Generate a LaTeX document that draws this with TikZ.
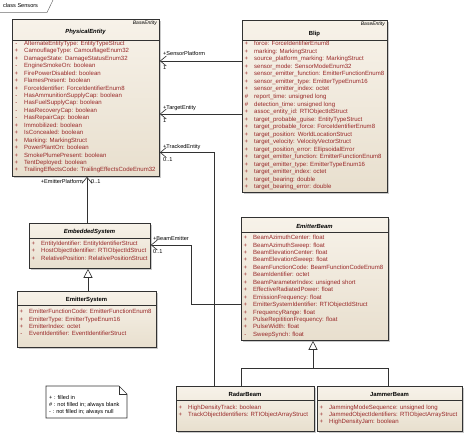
\documentclass[tikz,border=0pt]{standalone}
\usepackage{fontspec}
\setmainfont{Liberation Sans}
\usetikzlibrary{arrows.meta,shadows}
\definecolor{attrred}{RGB}{152,40,40}
\definecolor{boxtop}{RGB}{247,242,233}
\definecolor{boxbot}{RGB}{232,223,206}
\definecolor{edge}{RGB}{50,50,50}
\tikzset{
 umlbox/.style={draw=edge, line width=0.8pt, top color=boxtop, bottom color=boxbot, inner sep=0pt, anchor=north west,
   drop shadow={shadow xshift=1.6pt, shadow yshift=-1.6pt, opacity=0.35, fill=black!60}},
 vis/.style={font=\fontsize{6.05}{6}\selectfont, text=attrred, inner sep=0pt, anchor=base},
 attr/.style={font=\fontsize{6.05}{6}\selectfont, text=attrred, inner sep=0pt, anchor=base west},
 title/.style={font=\fontsize{5.9}{6}\selectfont\bfseries, inner sep=0pt, anchor=base},
 abstitle/.style={title, font=\fontsize{5.9}{6}\selectfont\bfseries\itshape},
 stereo/.style={font=\fontsize{5}{6}\selectfont\itshape, inner sep=0pt, anchor=base east},
 lbl/.style={font=\fontsize{5.6}{6}\selectfont, inner sep=0pt, anchor=base west},
 notetext/.style={font=\fontsize{5.6}{6}\selectfont, inner sep=0pt, anchor=base west},
 assoc/.style={draw=edge, line width=0.65pt, -{Straight Barb[length=6pt,width=10pt]}},
 gen/.style={draw=edge, line width=0.65pt, -{Triangle[open,length=9pt,width=9pt,fill=white]}},
 plainline/.style={draw=edge, line width=0.65pt},
 sepline/.style={draw=edge, line width=0.65pt},
}
\newcommand{\attrlist}[5]{%
  \foreach \v/\t [count=\i] in {#5}{
    \node[vis] (#1v\i) at ({#2+4.5},{#3+2+(\i-1)*#4}) {\v};
    \node[attr] (#1a\i) at ({#2+12},{#3+2+(\i-1)*#4}) {\t};
  }}
\begin{document}
\begin{tikzpicture}[x=1pt,y=-1pt]
\useasboundingbox (0,0) rectangle (474,444);
% frame tab
\node[notetext, anchor=base west] (frameT) at (3,8) {class Sensors};
\draw[edge!70, line width=0.5pt] (0,12.5) -- (47,12.5) -- (53,0);

% ---------- PhysicalEntity
\node[umlbox, minimum width=147pt, minimum height=157pt] (phys) at (12,19) {};
\node[stereo] (physS) at (157,25) {BaseEntity};
\node[abstitle] (physT) at (85.5,34) {PhysicalEntity};
\draw[sepline] (phys.west |- 0,40) -- (phys.east |- 0,40);
\attrlist{phys}{12}{43.3}{7.45}{-/AlternateEntityType: EntityTypeStruct, +/CamouflageType: CamouflageEnum32, +/DamageState: DamageStatusEnum32, -/EngineSmokeOn: boolean, +/FirePowerDisabled: boolean, +/FlamesPresent: boolean, +/ForceIdentifier: ForceIdentifierEnum8, -/HasAmmunitionSupplyCap: boolean, -/HasFuelSupplyCap: boolean, -/HasRecoveryCap: boolean, -/HasRepairCap: boolean, +/Immobilized: boolean, +/IsConcealed: boolean, +/Marking: MarkingStruct, +/PowerPlantOn: boolean, +/SmokePlumePresent: boolean, +/TentDeployed: boolean, +/TrailingEffectsCode: TrailingEffectsCodeEnum32}

% ---------- Blip
\node[umlbox, minimum width=145pt, minimum height=172pt] (blip) at (242,20) {};
\node[stereo] (blipS) at (385,26) {BaseEntity};
\node[title] (blipT) at (314.5,35.5) {Blip};
\draw[sepline] (blip.west |- 0,40) -- (blip.east |- 0,40);
\attrlist{blip}{242}{43.7}{7.54}{+/force: ForceIdentifierEnum8, +/marking: MarkingStruct, +/source\_platform\_marking: MarkingStruct, +/sensor\_mode: SensorModeEnum32, +/sensor\_emitter\_function: EmitterFunctionEnum8, +/sensor\_emitter\_type: EmitterTypeEnum16, +/sensor\_emitter\_index: octet, \#/report\_time: unsigned long, \#/detection\_time: unsigned long, +/assoc\_entity\_id: RTIObjectIdStruct, +/target\_probable\_guise: EntityTypeStruct, +/target\_probable\_force: ForceIdentifierEnum8, +/target\_position: WorldLocationStruct, +/target\_velocity: VelocityVectorStruct, +/target\_position\_error: EllipsoidalError, +/target\_emitter\_function: EmitterFunctionEnum8, +/target\_emitter\_type: EmitterTypeEnum16, +/target\_emitter\_index: octet, +/target\_bearing: double, +/target\_bearing\_error: double}

% ---------- EmbeddedSystem
\node[umlbox, minimum width=121pt, minimum height=45pt] (embed) at (29,223) {};
\node[abstitle] (embedT) at (89.5,233.8) {EmbeddedSystem};
\draw[sepline] (embed.west |- 0,238) -- (embed.east |- 0,238);
\attrlist{embed}{29}{243.3}{7.35}{+/EntityIdentifier: EntityIdentifierStruct, +/HostObjectIdentifier: RTIObjectIdStruct, +/RelativePosition: RelativePositionStruct}

% ---------- EmitterSystem
\node[umlbox, minimum width=139pt, minimum height=56pt] (esys) at (17,291) {};
\node[title] (esysT) at (86.5,301.2) {EmitterSystem};
\draw[sepline] (esys.west |- 0,305) -- (esys.east |- 0,305);
\attrlist{esys}{17}{311.7}{7.35}{+/EmitterFunctionCode: EmitterFunctionEnum8, +/EmitterType: EmitterTypeEnum16, +/EmitterIndex: octet, -/EventIdentifier: EventIdentifierStruct}

% ---------- EmitterBeam
\node[umlbox, minimum width=147pt, minimum height=123pt] (beam) at (241,217) {};
\node[abstitle] (beamT) at (314.5,228.2) {EmitterBeam};
\draw[sepline] (beam.west |- 0,232) -- (beam.east |- 0,232);
\attrlist{beam}{241}{237.7}{7.43}{+/BeamAzimuthCenter: float, +/BeamAzimuthSweep: float, +/BeamElevationCenter: float, +/BeamElevationSweep: float, +/BeamFunctionCode: BeamFunctionCodeEnum8, +/BeamIdentifier: octet, +/BeamParameterIndex: unsigned short, +/EffectiveRadiatedPower: float, +/EmissionFrequency: float, +/EmitterSystemIdentifier: RTIObjectIdStruct, +/FrequencyRange: float, +/PulseRepititionFrequency: float, +/PulseWidth: float, -/SweepSynch: float}

% ---------- RadarBeam
\node[umlbox, minimum width=138pt, minimum height=45pt] (radar) at (176,386) {};
\node[title] (radarT) at (245,396.2) {RadarBeam};
\draw[sepline] (radar.west |- 0,400) -- (radar.east |- 0,400);
\attrlist{radar}{176}{407}{7.2}{+/HighDensityTrack: boolean, +/TrackObjectIdentifiers: RTIObjectArrayStruct}

% ---------- JammerBeam
\node[umlbox, minimum width=145pt, minimum height=45pt] (jammer) at (317,386) {};
\node[title] (jammerT) at (389.5,396.2) {JammerBeam};
\draw[sepline] (jammer.west |- 0,400) -- (jammer.east |- 0,400);
\attrlist{jammer}{317}{407.5}{7.2}{+/JammingModeSequence: unsigned long, +/JammedObjectIdentifiers: RTIObjectArrayStruct, +/HighDensityJam: boolean}

% ---------- Note
\draw[draw=edge, line width=0.6pt, fill=white] (46,386) -- (119,386) -- (127,394) -- (127,418) -- (46,418) -- cycle;
\draw[draw=edge, line width=0.6pt] (119,386) -- (119,394) -- (127,394);
\node[notetext] (n1) at (49,399) {+ : filled in};
\node[notetext] (n2) at (49,406) {\# : not filled in; always blank};
\node[notetext] (n3) at (49,413) {- : not filled in; always null};

% ---------- associations
\draw[assoc] (blip.west |- 0,61) -- (phys.east |- 0,61);
\node[lbl] (lsp) at (163,56) {+SensorPlatform};
\node[lbl] (msp) at (163,69.5) {1};
\draw[assoc] (blip.west |- 0,114) -- (phys.east |- 0,114);
\node[lbl] (lte) at (163,109.5) {+TargetEntity};
\node[lbl] (mte) at (163,122) {1};
\draw[assoc] (radar.north -| 214,0) |- (phys.east |- 0,152.5);
\node[lbl] (ltr) at (163,148) {+TrackedEntity};
\node[lbl] (mtr) at (163,161) {0..1};
\draw[assoc] (embed.north -| 87,0) -- (phys.south -| 87,0);
\node[lbl, anchor=base east] (lep) at (83,183) {+EmitterPlatform};
\node[lbl] (mep) at (91,183) {0..1};
\draw[assoc] (beam.west |- 0,304) -- (191,304) -- (191,245) -- (embed.east |- 0,245);
\node[lbl] (lbe) at (153,240) {+BeamEmitter};
\node[lbl] (mbe) at (153,253) {0..1};

% ---------- generalizations
\draw[gen] (esys.north -| 88,0) -- (embed.south -| 88,0);
\draw[gen] (radar.north -| beam.west) |- (313,368.5) -- (beam.south -| 313,0);
\draw[plainline] (jammer.north -| beam.east) |- (313,368.5);
\end{tikzpicture}
\end{document}
